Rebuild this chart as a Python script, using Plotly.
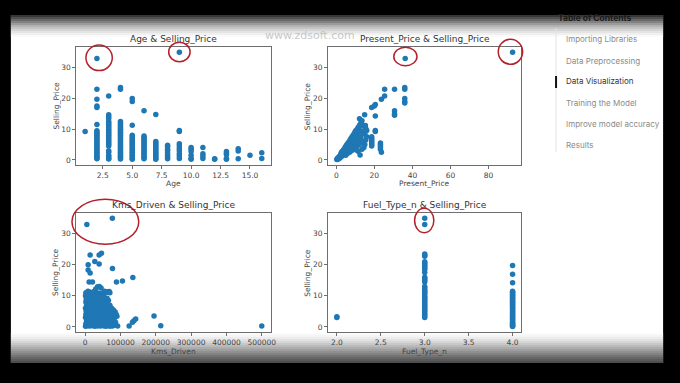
import plotly.graph_objects as go

# ---------------- data ----------------
age_groups = {
    1: [9.25],
    2: [33.0, 23.0, 19.75, 17.5, 17.0, 11.5, 9.5, 9.0, 8.5, 8.0, 7.5, 7.0, 6.5, 6.0, 5.5, 5.0,
        4.5, 4.0, 3.5, 3.0, 2.5, 2.0, 1.5, 1.0, 0.6, 0.4],
    3: [20.75, 14.7, 14.0, 13.5, 12.5, 12.0, 11.5, 11.0, 10.5, 10.0, 9.5, 9.0, 8.5, 8.0, 7.5,
        7.0, 6.5, 6.0, 5.5, 5.0, 4.5, 3.0, 2.5, 1.5, 1.0, 0.5, 0.3],
    4: [23.5, 23.0, 12.5, 12.0, 11.5, 11.0, 10.5, 10.0, 9.5, 9.0, 8.5, 8.0, 7.5, 7.0, 6.5, 6.0,
        5.5, 5.0, 4.5, 4.0, 3.5, 3.0, 2.5, 2.0, 1.5, 1.0, 0.6, 0.3],
    5: [20.0, 19.0, 11.25, 8.0, 7.5, 7.0, 6.5, 6.0, 5.5, 5.0, 4.5, 4.0, 3.5, 3.0, 2.5, 2.0,
        1.5, 1.0, 0.5, 0.25],
    6: [16.0, 7.75, 7.25, 6.75, 6.25, 5.75, 5.25, 4.75, 4.25, 3.75, 3.25, 2.75, 2.25, 1.75,
        1.25, 0.75, 0.35],
    7: [14.75, 6.0, 5.5, 5.0, 4.5, 4.0, 3.5, 3.0, 2.5, 2.0, 1.5, 1.0, 0.5, 0.2],
    8: [4.75, 4.25, 3.5, 3.0, 2.25, 1.5, 0.75, 0.35],
    9: [35.0, 9.6, 9.25, 5.25, 4.5, 3.75, 3.0, 2.0, 1.25, 0.5],
    10: [4.0, 3.5, 2.75, 1.5, 0.5, 0.25],
    11: [4.0, 2.0, 1.25, 0.45],
    12: [0.35, 0.2],
    13: [2.75, 2.25, 1.75, 0.45, 0.25],
    14: [3.6, 2.9, 0.35],
    15: [1.5],
    16: [2.3, 0.45],
}

present_price = [
    0.32, 0.47, 0.55, 0.7, 0.8, 0.95, 1.2, 1.5, 1.8, 2.3, 2.7, 3.2, 3.6, 4.1, 4.6, 5.1, 5.7, 6.2,
    6.8, 7.3, 7.7, 8.3, 8.9, 9.4, 9.8, 10.2, 11.0, 11.5, 12.1, 12.5, 13.1, 13.6, 14.5, 15.5, 16.0,
    1.0, 1.5, 2.0, 2.5, 3.0, 3.5, 4.0, 4.5, 5.0, 5.5, 6.0, 6.5, 7.0, 7.5, 8.0, 8.5, 9.0, 9.5,
    10.0, 10.5, 11.0, 12.0, 13.0, 14.0, 15.0,
    5.0, 6.0, 7.0, 8.0, 9.0, 10.0, 11.0, 12.0, 13.0, 14.0, 15.0, 14.5, 13.5, 12.5, 11.5, 10.5,
    9.5, 8.5, 7.5, 6.5, 12.0, 13.0, 11.0, 10.0, 15.5, 16.0,
    2.5, 3.0, 4.0, 5.5, 7.0, 8.0, 9.0, 10.0, 11.0, 12.2, 13.5, 15.3,
    36.2, 92.6, 35.96, 35.96, 35.96, 35.96, 35.96, 30.6, 30.6, 30.6, 30.6, 25.4, 25.4, 23.7,
    20.5, 20.0, 18.6, 14.9, 20.5, 20.5, 20.5, 18.6, 18.6, 18.6, 18.6, 18.6, 18.6, 18.6,
    23.2, 23.2, 23.2, 23.2, 23.2, 23.7,
]
present_sell = [
    0.1, 0.2, 0.3, 0.4, 0.5, 0.6, 0.8, 1.0, 1.2, 1.5, 2.0, 2.5, 3.0, 3.5, 4.0, 4.5, 5.0, 5.5,
    6.0, 6.5, 7.0, 7.5, 8.0, 8.5, 9.0, 9.5, 10.0, 10.5, 11.0, 11.5, 12.5, 11.3, 11.0, 10.2, 9.6,
    0.3, 0.5, 0.7, 1.0, 1.3, 1.6, 2.0, 2.3, 2.8, 3.2, 3.5, 4.0, 4.5, 5.0, 5.5, 6.0, 6.5, 7.0,
    7.5, 8.0, 8.5, 9.0, 9.5, 9.0, 8.5,
    1.5, 2.2, 2.5, 3.0, 3.5, 4.0, 4.5, 5.0, 5.5, 6.0, 5.0, 4.0, 3.5, 1.6, 2.8, 3.2,
    5.2, 4.2, 3.8, 3.0, 7.0, 7.5, 6.5, 6.0, 6.5, 7.5,
    2.2, 2.7, 3.2, 4.8, 5.8, 6.8, 7.5, 8.4, 9.2, 13.4, 12.7, 11.2,
    33.0, 35.0, 23.5, 23.0, 20.0, 19.0, 18.5, 23.0, 16.0, 15.0, 14.5, 23.0, 20.8, 19.75,
    18.0, 17.5, 17.0, 14.7, 14.25, 9.6, 9.25, 7.5, 7.0, 6.5, 6.0, 5.5, 5.0, 4.5,
    5.5, 5.0, 4.5, 4.0, 3.5, 2.5,
]

kms_driven = [
    4800, 77000,
    14100, 39600, 46200, 27300, 39600, 8500, 8500, 14100, 11300, 20700, 77300, 88600, 105600, 135000,
    124500, 134000, 138000, 143000, 195000, 214000, 500000, 92000,
    63000, 55000, 45000, 40000, 70000, 50000, 35000, 30000, 68000, 60000,
    2000, 8000, 15000, 25000, 33000, 42000, 58000,
    1000, 5000, 12000, 20000, 28000, 36000, 45000, 52000, 62000,
    3000, 10000, 18000, 26000, 34000, 40000, 48000, 56000, 66000,
    2000, 7000, 14000, 22000, 30000, 38000, 44000, 52000, 60000, 70000,
    4000, 9000, 16000, 24000, 32000, 41000, 49000, 57000, 65000, 75000,
    1000, 6000, 13000, 20000, 28000, 36000, 46000, 54000, 62000, 72000, 80000, 85000,
    3000, 9000, 17000, 25000, 33000, 40000, 50000, 58000, 68000, 78000, 88000,
    2000, 8000, 15000, 23000, 31000, 39000, 47000, 55000, 64000, 74000, 84000, 90000,
    1000, 6000, 12000, 20000, 28000, 36000, 44000, 52000, 61000, 70000, 80000,
    4000, 10000, 17000, 25000, 33000, 41000, 49000, 57000, 66000, 76000, 86000,
    2000, 8000, 15000, 23000, 31000, 38000, 46000, 54000, 62000, 72000, 82000,
    1000, 6000, 12000, 19000, 27000, 35000, 43000, 51000, 59000, 68000, 78000,
]
kms_sell = [
    33.0, 35.0,
    23.2, 23.2, 23.7, 21.1, 20.3, 20.0, 18.3, 17.4, 14.5, 14.5, 18.8, 14.5, 14.8, 15.9,
    0.3, 1.5, 2.0, 2.5, 3.5, 0.4, 0.25, 0.25,
    11.3, 11.5, 12.5, 13.0, 11.0, 10.5, 12.9, 12.2, 11.4, 11.2,
    11.0, 11.5, 11.2, 11.4, 11.0, 10.8, 11.0,
    10.0, 9.8, 10.0, 10.2, 9.8, 10.0, 9.5, 9.8, 9.2,
    9.0, 8.8, 9.0, 8.7, 9.0, 8.5, 8.6, 8.2, 8.5,
    8.0, 7.8, 8.0, 7.7, 8.0, 7.5, 7.8, 7.2, 7.6, 7.0,
    7.0, 6.8, 7.0, 6.6, 6.9, 6.5, 6.8, 6.2, 6.5, 6.0,
    6.0, 5.8, 6.0, 5.6, 5.9, 5.5, 5.7, 5.3, 5.5, 5.2, 5.4, 4.8,
    5.0, 4.8, 5.0, 4.6, 4.9, 4.5, 4.7, 4.3, 4.5, 4.2, 4.0,
    4.0, 3.8, 4.0, 3.6, 3.9, 3.5, 3.7, 3.3, 3.5, 3.2, 3.0, 3.4,
    3.0, 2.8, 3.0, 2.6, 2.9, 2.5, 2.7, 2.3, 2.6, 2.2, 2.4,
    2.0, 1.8, 2.0, 1.6, 1.9, 1.5, 1.7, 1.3, 1.6, 1.2, 1.5,
    1.0, 0.8, 1.0, 0.6, 0.9, 0.5, 0.7, 0.4, 0.6, 0.3, 0.5,
    0.2, 0.35, 0.25, 0.4, 0.2, 0.3, 0.25, 0.35, 0.2, 0.3, 0.25,
]

fuel_groups = {
    2: [3.25, 3.0],
    3: [35.0, 33.0, 23.5, 23.2, 22.8, 21.0, 20.5, 20.0, 19.5, 19.0, 18.5, 17.5, 16.0, 15.5, 15.0,
        14.5, 13.0, 12.5, 12.0, 11.5, 11.0, 10.5, 9.7, 9.5, 9.0, 8.5, 8.0, 7.5, 7.0, 6.5, 6.0,
        5.5, 5.0, 4.5, 4.0, 3.5, 3.0],
    4: [19.75, 17.0, 14.25, 11.5, 11.2, 10.9, 10.5, 10.2, 9.9, 9.5, 9.2, 8.9, 8.5, 8.2, 7.9, 7.5,
        7.2, 6.9, 6.5, 6.2, 5.9, 5.5, 5.2, 4.9, 4.5, 4.2, 3.9, 3.5, 3.2, 2.9, 2.5, 2.2, 1.9, 1.5,
        1.2, 0.9, 0.6, 0.4, 0.25, 0.1],
}

titles = ["Age & Selling_Price", "Present_Price & Selling_Price",
          "Kms_Driven & Selling_Price", "Fuel_Type_n & Selling_Price"]
x_labels = ["Age", "Present_Price", "Kms_Driven", "Fuel_Type_n"]
y_label = "Selling_Price"

toc_title = "Table of Contents"
toc_items = ["Importing Libraries", "Data Preprocessing", "Data Visualization",
             "Training the Model", "Improve model accuracy", "Results"]
toc_active = "Data Visualization"

# ---------------- layout helpers ----------------
W, H = 680, 383
def px(x):
    return x / W
def py(y):
    return 1 - y / H

age_x = [a for a, vals in age_groups.items() for _ in vals]
age_y = [v for vals in age_groups.values() for v in vals]
fuel_x = [f for f, vals in fuel_groups.items() for _ in vals]
fuel_y = [v for vals in fuel_groups.values() for v in vals]

BLUE = "#1f77b4"
marker = dict(color=BLUE, size=5.5, line=dict(width=0))

fig = go.Figure()
series = [(age_x, age_y), (present_price, present_sell), (kms_driven, kms_sell), (fuel_x, fuel_y)]
for i, (xs, ys) in enumerate(series):
    sfx = "" if i == 0 else str(i + 1)
    fig.add_trace(go.Scatter(x=xs, y=ys, mode="markers", marker=marker,
                             xaxis="x" + sfx, yaxis="y" + sfx, showlegend=False,
                             cliponaxis=False))

# plot boxes in pixels
XL, XR = (77, 273), (331, 526)
YT, YB = (47, 165), (213, 332)
boxes = [(XL, YT), (XR, YT), (XL, YB), (XR, YB)]
xranges = [[0.25, 16.75], [-4.3, 97.2], [-25000, 525000], [1.9, 4.1]]
yrange = [-1.65, 36.7]
xticks = [
    dict(tickvals=[2.5, 5.0, 7.5, 10.0, 12.5, 15.0], tickformat=".1f"),
    dict(tickvals=[0, 20, 40, 60, 80]),
    dict(tickvals=[0, 100000, 200000, 300000, 400000, 500000], tickformat="d"),
    dict(tickvals=[2.0, 2.5, 3.0, 3.5, 4.0], tickformat=".1f"),
]

AX = dict(showline=True, mirror=True, linecolor="#6e6e6e", linewidth=1,
          ticks="outside", ticklen=3, tickcolor="#6e6e6e", tickwidth=1,
          tickfont=dict(family="DejaVu Sans", size=7.5, color="#444"),
          showgrid=False, zeroline=False, fixedrange=True)

layout = dict(width=W, height=H, margin=dict(l=0, r=0, t=0, b=0),
              paper_bgcolor="black", plot_bgcolor="rgba(0,0,0,0)", showlegend=False)
for i, ((x0, x1), (y0, y1)) in enumerate(boxes):
    sfx = "" if i == 0 else str(i + 1)
    layout["xaxis" + sfx] = dict(AX, domain=[px(x0), px(x1)], range=xranges[i],
                                 anchor="y" + sfx, **xticks[i])
    layout["yaxis" + sfx] = dict(AX, domain=[py(y1), py(y0)], range=yrange,
                                 anchor="x" + sfx, tickvals=[0, 10, 20, 30])
fig.update_layout(**layout)

shapes = []
# white page
shapes.append(dict(type="rect", xref="paper", yref="paper", x0=px(11), x1=px(669),
                   y0=py(363), y1=py(15), fillcolor="white", line=dict(width=0), layer="below"))
# top shading
top_levels = [55, 80, 105, 130, 155, 178, 197, 213, 228, 240, 250]
for k, g in enumerate(top_levels):
    shapes.append(dict(type="rect", xref="paper", yref="paper", x0=px(11), x1=px(669),
                       y0=py(15 + 2 * k + 2), y1=py(15 + 2 * k),
                       fillcolor=f"rgb({g},{g},{g})", line=dict(width=0), layer="below"))
# bottom shading
bot_levels = [250, 244, 236, 226, 214, 200, 186, 172, 158, 144, 130, 116, 102, 90, 78]
for k, g in enumerate(bot_levels):
    shapes.append(dict(type="rect", xref="paper", yref="paper", x0=px(11), x1=px(669),
                       y0=py(333 + 2 * k + 2), y1=py(333 + 2 * k),
                       fillcolor=f"rgb({g},{g},{g})", line=dict(width=0), layer="below"))
# sidebar line and active marker
shapes.append(dict(type="line", xref="paper", yref="paper", x0=px(561), x1=px(561),
                   y0=py(152), y1=py(28), line=dict(color="#e3e3e3", width=1), layer="below"))
shapes.append(dict(type="line", xref="paper", yref="paper", x0=px(561), x1=px(561),
                   y0=py(88), y1=py(76), line=dict(color="#111", width=2), layer="above"))
# red hand-drawn circles (pixel center, radius x, radius y)
circles = [(100, 57.8, 13.3, 12.8), (181, 52, 10.8, 9.7), (409, 56.5, 11.7, 9.2),
           (515, 51.8, 12.3, 12.5), (106.3, 221.8, 33.7, 22.5), (428, 220.5, 9.7, 12.2)]
for cx, cy, rx, ry in circles:
    shapes.append(dict(type="circle", xref="paper", yref="paper",
                       x0=px(cx - rx), x1=px(cx + rx), y0=py(cy + ry), y1=py(cy - ry),
                       line=dict(color="#b3202b", width=1.5), layer="above"))
fig.update_layout(shapes=shapes)

ann = []
FT = "DejaVu Sans"
for i, ((x0, x1), (y0, y1)) in enumerate(boxes):
    cx = (x0 + x1) / 2
    ann.append(dict(text=titles[i], x=px(cx), y=py(y0 - 8), xref="paper", yref="paper",
                    showarrow=False, xanchor="center", yanchor="middle",
                    font=dict(family=FT, size=9, color="#333")))
    ann.append(dict(text=x_labels[i], x=px(cx), y=py(y1 + 19), xref="paper", yref="paper",
                    showarrow=False, xanchor="center", yanchor="middle",
                    font=dict(family=FT, size=7.5, color="#444")))
    ann.append(dict(text=y_label, x=px(x0 - 21), y=py((y0 + y1) / 2), xref="paper", yref="paper",
                    showarrow=False, textangle=-90, xanchor="center", yanchor="middle",
                    font=dict(family=FT, size=7.5, color="#444")))
# watermark
ann.append(dict(text="www.zdsoft.com", x=px(265), y=py(35), xref="paper", yref="paper",
                showarrow=False, xanchor="left", yanchor="middle",
                font=dict(family="DejaVu Sans", size=11, color="rgba(170,170,170,0.65)")))
# table of contents
ann.append(dict(text="<b>" + toc_title + "</b>", x=px(561), y=py(18), xref="paper", yref="paper",
                showarrow=False, xanchor="left", yanchor="middle",
                font=dict(family="Inter", size=8.5, color="#1a1a1a")))
toc_y = [39, 61, 81, 103, 124, 145]
for name, yy in zip(toc_items, toc_y):
    ann.append(dict(text=name, x=px(569), y=py(yy), xref="paper", yref="paper",
                    showarrow=False, xanchor="left", yanchor="middle",
                    font=dict(family="Inter", size=8,
                              color="#333" if name == toc_active else "#8a8a8a")))
fig.update_layout(annotations=ann)

fig.write_html(
    "out.html", config={"displayModeBar": False},
    post_script=("document.documentElement.style.overflow='hidden';"
                 "document.body.style.overflow='hidden';"
                 "document.body.style.margin='0';document.body.style.background='black';"))
